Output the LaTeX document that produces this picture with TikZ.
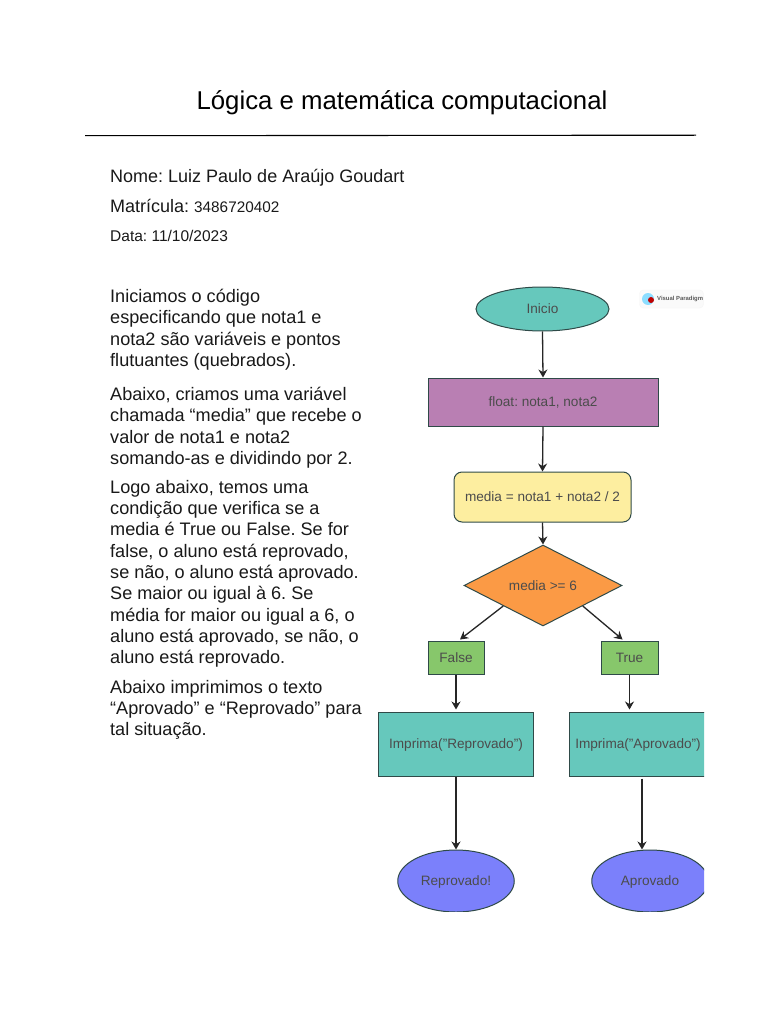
\documentclass[tikz,border=0pt]{standalone}
\usepackage{fontspec}
\setmainfont[Ligatures=ResetAll]{Liberation Sans}
\usetikzlibrary{shapes.geometric,calc,arrows.meta}
\definecolor{tealc}{HTML}{66C8BC}
\definecolor{purplec}{HTML}{B97FB3}
\definecolor{yellowc}{HTML}{FDEEA0}
\definecolor{orangec}{HTML}{FB9A45}
\definecolor{greenc}{HTML}{87C76B}
\definecolor{bluec}{HTML}{7B80FB}
\definecolor{edgec}{HTML}{2F4A48}
\newcommand{\fs}[1]{\fontsize{#1}{#1}\selectfont}
\frenchspacing
\tikzset{
  x=1pt,y=-1pt,
  para/.style={anchor=north west,inner sep=0pt,align=left,text=black!90,font=\fontsize{18.1}{21.3}\selectfont},
  line1/.style={anchor=base west,inner sep=0pt,text=black!90},
  box/.style={draw=edgec,line width=1pt,inner sep=0pt,font=\fs{13.6},text=black!70,text height=9.5,text depth=0.5},
  rectbox/.style={box,rectangle,minimum width=#1},
  oval/.style={box,ellipse},
  flow/.style={draw=black!85,line width=1.3pt,-{Stealth[length=8pt,width=9pt]}}
}
\begin{document}
\begin{tikzpicture}
\useasboundingbox (0,0) rectangle (768,1024);
\fill[white] (0,0) rectangle (768,1024);
\node[anchor=base,inner sep=0pt,font=\fs{25.75}] (title) at (402,110) {Lógica e matemática computacional};
\coordinate (ruleA) at (85,135.7);
\coordinate (ruleB) at (696,135.2);
\draw[line width=1.1pt] (ruleA) -- (ruleB);
\node[line1,font=\fs{18}] (nome) at (110,183) {Nome: Luiz Paulo de Araújo Goudart};
\node[line1,font=\fs{18}] (matr) at (110,213) {Matrícula: {\fs{15.3}3486720402}};
\node[line1,font=\fs{15.5}] (data) at (110,241) {Data: 11/10/2023};
\node[para] (p1) at (110,289) {Iniciamos o código\\especificando que nota1 e\\nota2 são variáveis e pontos\\flutuantes (quebrados).};
\node[para] (p2) at (110,387) {Abaixo, criamos uma variável\\chamada “media” que recebe o\\valor de nota1 e nota2\\somando-as e dividindo por 2.};
\node[para] (p3) at (110,480) {Logo abaixo, temos uma\\condição que verifica se a\\media é True ou False. Se for\\false, o aluno está reprovado,\\se não, o aluno está aprovado.\\Se maior ou igual à 6. Se\\média for maior ou igual a 6, o\\aluno está aprovado, se não, o\\aluno está reprovado.};
\node[para] (p4) at (110,680) {Abaixo imprimimos o texto\\“Aprovado” e “Reprovado” para\\tal situação.};
\begin{scope}
\clip (370,280) rectangle (704,911.5);
\node[oval,fill=tealc,minimum width=133,minimum height=44] (inicio) at (542.5,309) {Inicio};
\node[rectbox=230,fill=purplec,minimum height=48] (flt) at (543,402) {float: nota1, nota2};
\node[rectbox=177,fill=yellowc,minimum height=50,rounded corners=8pt] (media) at (542.5,497) {media = nota1 + nota2 / 2};
\node[box,diamond,aspect=1.95,fill=orangec,minimum width=158,minimum height=81] (dec) at (543,585.5) {media >= 6};
\node[rectbox=56,fill=greenc,minimum height=33] (fals) at (456,657.5) {False};
\node[rectbox=57,fill=greenc,minimum height=33] (tru) at (629.5,657.5) {True};
\node[rectbox=155.5,fill=tealc,minimum height=64] (impr) at (456,744) {Imprima("Reprovado")};
\node[rectbox=138,fill=tealc,minimum height=64] (impa) at (638,744) {Imprima("Aprovado")};
\node[oval,fill=bluec,minimum width=116.5,minimum height=62] (rep) at (456,881) {Reprovado!};
\node[oval,fill=bluec,minimum width=116.5,minimum height=62] (apr) at (650,881) {Aprovado};
\draw[flow] (inicio.south) -- (flt.north);
\draw[flow] (flt.south) -- (media.north);
\draw[flow] (media.south) -- (dec.north);
\draw[flow] (dec.south west) -- ($(fals.north)+(4,-1)$);
\draw[flow] (dec.south east) -- ($(tru.north)+(-7,-1)$);
\draw[flow] (fals.south) -- ($(impr.north)+(0,-2)$);
\draw[flow] (tru.south) -- ($(impa.north)+(-8.5,-2)$);
\draw[flow] (impr.south) -- (rep.north);
\draw[flow] ($(impa.south)+(4,2)$) -- (apr.north -| 642,0);
\end{scope}
\node[draw=black!4,fill=black!2,rounded corners=4pt,minimum width=64,minimum height=18,inner sep=0pt] (logo) at (671.5,299) {};
\node[circle,fill=blue!30!cyan!45,minimum size=12,inner sep=0pt] (logoc) at (648,299) {};
\node[circle,fill=red!75!black,minimum size=6,inner sep=0pt] (logop) at (651,300) {};
\node[anchor=west,inner sep=0pt,font=\fontsize{5.9}{7}\selectfont\bfseries,text=black!65] (logot) at (657,298.5) {Visual Paradigm};
\end{tikzpicture}
\end{document}
